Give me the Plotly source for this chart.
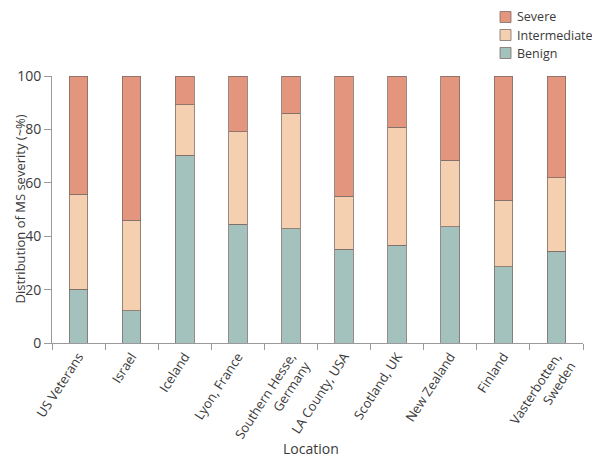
import plotly.graph_objects as go

locations = ["US Veterans", "Israel", "Iceland", "Lyon, France", "Southern Hesse,<br>Germany",
             "LA County, USA", "Scotland, UK", "New Zealand", "Finland", "Vasterbotten,<br>Sweden"]
benign = [20.2, 12.0, 70.3, 44.5, 42.7, 35.2, 36.6, 43.5, 28.6, 34.4]
intermediate = [35.5, 34.0, 19.0, 34.7, 43.3, 19.8, 44.2, 24.9, 24.8, 27.4]
severe = [100 - b - i for b, i in zip(benign, intermediate)]
series_names = ["Severe", "Intermediate", "Benign"]
series_colors = {"Benign": "#a3c2bd", "Intermediate": "#f5d0b0", "Severe": "#e3967d"}

font_family = "Open Sans, Liberation Sans, sans-serif"
text_color = "#3a3a3a"
line_color = "#7f6d66"

# figure is drawn 8px in from the page corner (body margin), so size is reduced accordingly
W, H = 592, 450
L, R, T, B = 44, 17, 68, 115
PW, PH = W - L - R, H - T - B

def px_x(fx):
    return (fx - L) / PW

def px_y(fy):
    return (H - B - fy) / PH

fig = go.Figure()
for name, vals in [("Benign", benign), ("Intermediate", intermediate), ("Severe", severe)]:
    fig.add_trace(go.Bar(name=name, x=locations, y=vals, width=0.35, showlegend=False,
                         marker=dict(color=series_colors[name], line=dict(color=line_color, width=0.8))))

shapes = []
annotations = []
row_centers = [9.0, 27.0, 45.0]
for name, cy in zip(series_names, row_centers):
    shapes.append(dict(type="rect", xref="paper", yref="paper",
                       x0=px_x(492), x1=px_x(503), y0=px_y(cy + 5.5), y1=px_y(cy - 5.5),
                       fillcolor=series_colors[name], line=dict(color=line_color, width=0.8)))
    annotations.append(dict(text=name, xref="paper", yref="paper", x=px_x(507), y=px_y(cy),
                            xanchor="left", yanchor="middle", showarrow=False,
                            font=dict(size=12.5, color=text_color)))

annotations += [
    dict(text="Location", xref="paper", yref="paper", x=0.488, y=px_y(440),
         showarrow=False, font=dict(size=14, color=text_color), xanchor="center", yanchor="middle"),
    dict(text="Distribution of MS severity (~%)", xref="paper", yref="paper", x=px_x(0), y=0.5,
         textangle=-90, showarrow=False, font=dict(size=13, color=text_color),
         xanchor="left", yanchor="middle"),
]

fig.update_layout(
    width=W, height=H,
    barmode="stack",
    plot_bgcolor="white", paper_bgcolor="white",
    margin=dict(l=L, r=R, t=T, b=B, autoexpand=False),
    font=dict(family=font_family, size=13, color=text_color),
    showlegend=False,
    xaxis=dict(showline=True, linecolor="#9a9a9a", linewidth=1, ticks="outside",
               tickson="boundaries", ticklen=6, tickcolor="#9a9a9a", tickangle=-57,
               tickfont=dict(size=13, color=text_color), showgrid=False, zeroline=False,
               automargin=False),
    yaxis=dict(range=[0, 100], showline=True, linecolor="#9a9a9a", linewidth=1,
               ticks="outside", ticklen=7, tickcolor="#9a9a9a", tickvals=[0, 20, 40, 60, 80, 100],
               tickfont=dict(size=14, color=text_color), showgrid=False, zeroline=False,
               automargin=False),
    shapes=shapes,
    annotations=annotations,
)

fig.write_html("out.html")
